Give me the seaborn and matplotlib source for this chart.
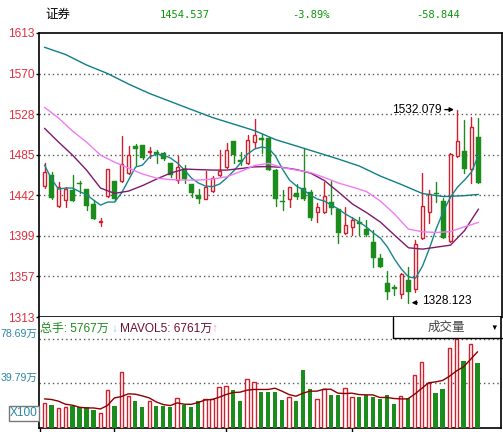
import numpy as np
import pandas as pd
import seaborn as sns
import matplotlib.pyplot as plt
from matplotlib.patches import Rectangle

# K线数据 (开, 高, 低, 收)
opens = [1451.0, 1463.0, 1429.8, 1436.2, 1447.1, 1454.8, 1448.1, 1432.3, 1413.8, 1440.4,
         1456.6, 1456.6, 1464.7, 1493.9, 1494.6, 1487.7, 1486.9, 1486.5, 1475.3, 1457.6,
         1468.9, 1453.4, 1441.4, 1437.9, 1445.7, 1463.2, 1471.1, 1498.5, 1478.8, 1475.3,
         1498.1, 1501.7, 1502.0, 1468.2, 1435.1, 1437.2, 1443.9, 1448.8, 1444.6, 1423.5,
         1423.5, 1434.4, 1426.6, 1401.3, 1407.6, 1413.0, 1405.8, 1392.4, 1375.5, 1348.4,
         1344.0, 1336.8, 1351.9, 1342.1, 1396.0, 1423.5, 1444.5, 1435.4, 1393.1, 1483.0,
         1488.3, 1469.2, 1502.8]
highs = [1475.3, 1465.8, 1455.2, 1450.5, 1462.9, 1456.6, 1448.1, 1436.5, 1417.8, 1469.5,
         1457.0, 1504.1, 1493.2, 1495.4, 1495.0, 1492.2, 1489.3, 1487.0, 1475.5, 1483.3,
         1473.2, 1453.5, 1447.8, 1467.1, 1462.2, 1489.3, 1496.7, 1498.5, 1487.2, 1505.5,
         1522.1, 1506.2, 1503.0, 1469.0, 1446.7, 1450.0, 1453.1, 1491.1, 1446.7, 1433.6,
         1455.8, 1456.2, 1427.0, 1428.8, 1418.2, 1418.9, 1415.3, 1404.8, 1379.9, 1361.8,
         1346.6, 1359.0, 1366.0, 1394.2, 1465.3, 1447.1, 1455.8, 1438.3, 1485.8, 1532.079,
         1521.0, 1524.5, 1522.8]
lows = [1449.5, 1437.2, 1429.0, 1429.4, 1435.7, 1443.9, 1425.6, 1416.0, 1409.0, 1440.0,
        1436.0, 1456.0, 1464.0, 1473.5, 1480.0, 1481.2, 1475.9, 1479.0, 1461.1, 1454.8,
        1454.8, 1439.3, 1433.0, 1437.5, 1445.0, 1462.0, 1470.0, 1475.9, 1473.2, 1474.6,
        1491.4, 1485.8, 1468.0, 1430.1, 1425.9, 1428.8, 1437.2, 1437.0, 1415.0, 1412.9,
        1423.0, 1421.7, 1391.3, 1401.0, 1399.2, 1399.2, 1398.4, 1365.3, 1365.3, 1331.8,
        1336.0, 1332.6, 1328.123, 1339.6, 1395.0, 1411.9, 1434.7, 1396.0, 1392.4, 1482.0,
        1464.7, 1454.1, 1454.537]
closes = [1465.7, 1438.9, 1449.9, 1448.1, 1435.7, 1453.1, 1430.5, 1416.1, 1414.8, 1469.2,
          1437.5, 1474.2, 1483.7, 1490.7, 1481.2, 1488.8, 1485.5, 1480.2, 1462.6, 1471.1,
          1459.0, 1444.2, 1437.9, 1449.9, 1460.0, 1467.4, 1489.0, 1483.7, 1477.0, 1499.6,
          1504.9, 1500.3, 1468.5, 1437.5, 1434.1, 1449.9, 1440.0, 1437.5, 1417.4, 1428.8,
          1440.4, 1428.3, 1401.3, 1409.7, 1415.3, 1411.0, 1399.5, 1375.5, 1366.0, 1339.6,
          1343.0, 1357.9, 1338.9, 1389.7, 1430.1, 1443.1, 1443.0, 1396.6, 1484.8, 1498.8,
          1469.2, 1513.3, 1454.537]

# 成交量 (万, x100)
volumes = [22.6, 20.2, 17.5, 18.4, 19.9, 18.7, 18.2, 15.8, 13.7, 33.6,
           19.9, 49.6, 28.5, 23.8, 18.4, 23.8, 19.6, 19.6, 18.4, 26.2,
           20.5, 18.4, 24.0, 25.3, 25.3, 36.0, 37.1, 33.6, 24.0, 43.1,
           40.7, 31.8, 31.8, 31.8, 24.7, 27.1, 23.8, 51.4, 34.2, 25.3,
           34.2, 29.7, 29.7, 35.1, 27.9, 27.3, 29.1, 27.3, 25.5, 29.1,
           21.1, 28.8, 26.7, 46.6, 58.5, 39.5, 30.9, 34.4, 70.7, 78.7,
           59.4, 74.5, 57.67]
vol_ma5 = [25.8, 25.3, 23.8, 21.1, 20.2, 18.4, 17.8, 17.8, 16.9, 19.9,
           26.7, 27.9, 30.3, 30.0, 28.5, 26.7, 23.1, 20.8, 19.9, 22.3,
           21.1, 21.0, 22.6, 24.9, 25.3, 27.3, 29.7, 31.5, 31.8, 33.6,
           34.2, 34.2, 34.2, 35.3, 32.7, 29.7, 28.2, 30.9, 32.7, 32.7,
           34.4, 34.4, 30.9, 30.6, 30.9, 29.7, 29.4, 29.4, 27.1, 27.1,
           26.2, 25.8, 25.8, 30.0, 35.1, 40.1, 40.9, 42.2, 46.0, 50.7,
           54.3, 60.9, 67.61]

# 均线
ma5 = [1473.5, 1458.7, 1448.1, 1449.2, 1449.2, 1445.5, 1442.3, 1436.5, 1431.2, 1434.4,
       1434.4, 1443.9, 1457.6, 1471.4, 1473.5, 1481.9, 1485.1, 1484.0, 1480.9, 1475.6,
       1468.2, 1459.7, 1454.5, 1451.3, 1450.7, 1453.4, 1459.7, 1467.1, 1475.6, 1485.1,
       1490.4, 1492.5, 1491.4, 1483.0, 1469.2, 1457.6, 1451.3, 1447.1, 1441.8, 1437.5,
       1435.4, 1431.2, 1427.0, 1421.7, 1417.5, 1413.2, 1408.0, 1401.6, 1396.3, 1386.8,
       1374.1, 1363.5, 1355.4, 1354.0, 1366.7, 1385.7, 1406.9, 1424.9, 1439.6, 1450.2,
       1457.6, 1466.1, 1484.0]
ma10_day = list(range(0, 63, 2))
ma10 = [1512.3, 1497.8, 1484.0, 1468.2, 1449.2, 1443.6, 1446.0, 1451.8, 1458.7, 1465.0,
        1469.3, 1468.7, 1468.2, 1468.2, 1469.8, 1471.6, 1471.9, 1471.0, 1468.7, 1465.0,
        1457.1, 1445.0, 1432.3, 1423.3, 1413.2, 1399.5, 1386.1, 1384.7, 1386.8, 1388.9,
        1404.2, 1427.0]
ma20_day = list(range(0, 63, 2))
ma20 = [1534.5, 1523.2, 1509.4, 1497.8, 1484.0, 1476.6, 1470.3, 1464.0, 1459.7, 1458.1,
        1457.6, 1457.6, 1458.7, 1461.1, 1466.6, 1473.0, 1475.3, 1470.8, 1468.2, 1465.6,
        1460.3, 1454.5, 1450.2, 1445.5, 1435.4, 1421.7, 1405.8, 1403.0, 1402.3, 1403.2,
        1408.3, 1412.9]
ma60_day = list(range(0, 61, 3)) + [62]
ma60 = [1597.9, 1590.3, 1579.2, 1570.2, 1559.1, 1549.1, 1540.6, 1532.1, 1523.7, 1516.8,
        1509.9, 1500.4, 1493.6, 1486.7, 1479.8, 1472.4, 1461.8, 1452.9, 1443.4, 1440.2,
        1441.2, 1442.5]

price_labels = ["1313", "1357", "1399", "1442", "1485", "1528", "1570", "1613"]
vol_ticks = [39.79, 78.69]
vol_labels = ["39.79万", "78.69万"]
month_starts = [10, 26, 44]

RED = '#d0202e'
GREEN = '#1c8c1c'

sns.set_theme(style='white')
plt.rcParams['font.family'] = ['Liberation Sans', 'Noto Sans CJK SC', 'DejaVu Sans']

W, H = 503, 432
fig = plt.figure(figsize=(W / 100, H / 100), dpi=100)
fig.patch.set_facecolor('white')
ax = fig.add_axes([39 / W, 1 - 317 / H, 463 / W, 284 / H])
axv = fig.add_axes([39 / W, 1 - 428 / H, 462 / W, 111 / H])

n = len(closes)
days = np.arange(n)
xlim = (-0.79, 65.36)

# 主图 K线
for i in range(n):
    o, h, l, c = opens[i], highs[i], lows[i], closes[i]
    up = c >= o
    col = RED if up else GREEN
    top, bot = max(o, c), min(o, c)
    if up:
        ax.plot([i, i], [top, h], color=col, lw=1, zorder=3)
        ax.plot([i, i], [l, bot], color=col, lw=1, zorder=3)
        ax.add_patch(Rectangle((i - 0.26, bot), 0.52, max(top - bot, 0.3),
                               facecolor='white', edgecolor=col, lw=1, zorder=4))
    else:
        ax.plot([i, i], [l, h], color=col, lw=1, zorder=3)
        ax.add_patch(Rectangle((i - 0.31, bot), 0.62, max(top - bot, 1.2),
                               facecolor=col, edgecolor=col, lw=0.3, zorder=4))

lines = pd.DataFrame({'day': days, 'ma5': ma5})
sns.lineplot(data=lines, x='day', y='ma5', ax=ax, color='#15878a', lw=1, zorder=5)
sns.lineplot(x=ma10_day, y=ma10, ax=ax, color='#7d1a6e', lw=1, zorder=5)
sns.lineplot(x=ma20_day, y=ma20, ax=ax, color='#f27af2', lw=1, zorder=5)
sns.lineplot(x=ma60_day, y=ma60, ax=ax, color='#0e7f86', lw=1, zorder=5)

ax.set_xlim(*xlim)
ax.set_ylim(1313, 1613)
yt = np.linspace(1313, 1613, 8)
ax.set_yticks(yt)
ax.set_yticklabels(price_labels, color='#e03040', fontsize=8.6)
for y in yt[1:-1]:
    ax.axhline(y, color='#555555', lw=1, ls=(0, (1, 2.2)), zorder=1)
ax.set_xticks([])
ax.tick_params(axis='y', length=2, width=1, pad=1, color='black', left=True)
ax.set_xlabel('')
ax.set_ylabel('')
for s in ax.spines.values():
    s.set_color('black')
    s.set_linewidth(1.2)

# 最高 / 最低标注
hi_i = int(np.argmax(highs))
lo_i = int(np.argmin(lows))
ax.annotate('', xy=(hi_i - 0.1, highs[hi_i]), xytext=(hi_i - 2.2, highs[hi_i]),
            arrowprops=dict(arrowstyle='-|>', color='black', lw=1, mutation_scale=6))
ax.text(hi_i - 2.25, highs[hi_i], f'{highs[hi_i]:.3f}', ha='right', va='center',
        fontsize=8.6, color='black', zorder=6)
ax.annotate('', xy=(lo_i + 0.05, lows[lo_i]), xytext=(lo_i + 1.65, lows[lo_i]),
            arrowprops=dict(arrowstyle='-|>', color='black', lw=1, mutation_scale=6))
ax.text(lo_i + 1.9, lows[lo_i] + 2, f'{lows[lo_i]:.3f}', ha='left', va='center',
        fontsize=8.6, color='black', zorder=6)

# 成交量
for i in range(n):
    up = closes[i] >= opens[i]
    if up:
        axv.bar(i, volumes[i], width=0.5, facecolor='white', edgecolor=RED, lw=1, zorder=3)
    else:
        axv.bar(i, volumes[i], width=0.62, color=GREEN, lw=0, zorder=3)
sns.lineplot(x=days, y=vol_ma5, ax=axv, color='#8b0000', lw=1, zorder=4)
axv.set_xlim(*xlim)
axv.set_ylim(0, 98.5)
axv.set_yticks([])
for v, lbl in zip(vol_ticks, vol_labels):
    axv.axhline(v, color='#555555', lw=1, ls=(0, (1, 2.2)), zorder=1)
    axv.text(-0.004, v, lbl, transform=axv.get_yaxis_transform(), ha='right',
             va='bottom', fontsize=7.6, color='#2a86a6')
axv.set_xticks([xlim[0] + 0.15] + month_starts)
axv.set_xticklabels([])
axv.tick_params(axis='x', direction='out', length=4, width=1, color='black', bottom=True)
axv.set_xlabel('')
axv.set_ylabel('')
axv.spines['top'].set_visible(False)
for k in ['left', 'right', 'bottom']:
    axv.spines[k].set_color('black')
    axv.spines[k].set_linewidth(1.2)

# X100 标签框
fig.text(24 / W, 1 - 413.5 / H, 'X100', ha='center', va='center', fontsize=8.6,
         color='#2a86a6', bbox=dict(boxstyle='square,pad=0.12', facecolor='white',
                                      edgecolor='#777777', lw=1))

# 成交量指标
fig.text(40 / W, 1 - 329 / H, '总手: 5767万', ha='left', va='center', fontsize=8.6,
         color='#1c8c1c')
fig.text(111 / W, 1 - 329 / H, '↓', ha='left', va='center', fontsize=8.6, color='#8ad0f0')
fig.text(120 / W, 1 - 329 / H, 'MAVOL5: 6761万', ha='left', va='center', fontsize=8.6,
         color='#6e1030')
fig.text(211 / W, 1 - 329 / H, '↑', ha='left', va='center', fontsize=8.6, color='#f4a0a0')

# 成交量 选择框
fig.add_artist(plt.Line2D([393 / W, 393 / W], [1 - 317 / H, 1 - 338 / H], color='black', lw=1))
fig.add_artist(plt.Line2D([393 / W, 502 / W], [1 - 338 / H, 1 - 338 / H], color='black', lw=1))
fig.text(446 / W, 1 - 328 / H, '成交量', ha='center', va='center', fontsize=9, color='#444444')
fig.text(494 / W, 1 - 328 / H, '▼', ha='center', va='center', fontsize=5.5, color='black')

# 顶部行情
fig.text(45 / W, 1 - 15 / H, '证券', ha='left', va='center', fontsize=9, color='black')
fig.text(185 / W, 1 - 15 / H, '1454.537', ha='center', va='center', fontsize=7.5,
         color='#0a960a', family='DejaVu Sans Mono')
fig.text(311 / W, 1 - 15 / H, '-3.89%', ha='center', va='center', fontsize=7.5,
         color='#0a960a', family='DejaVu Sans Mono')
fig.text(438 / W, 1 - 15 / H, '-58.844', ha='center', va='center', fontsize=7.5,
         color='#0a960a', family='DejaVu Sans Mono')

fig.savefig('out.png', dpi=100, facecolor='white')
